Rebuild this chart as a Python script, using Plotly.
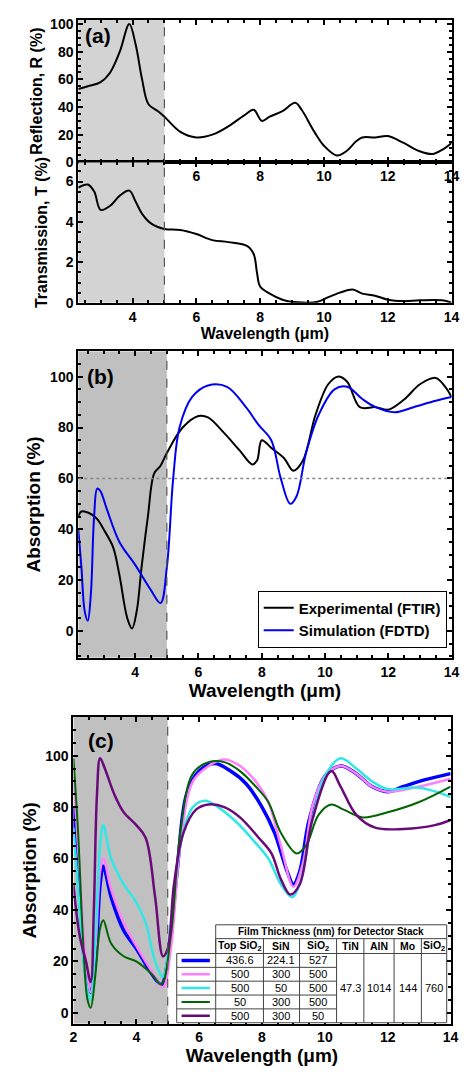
import plotly.graph_objects as go

# ---------- data ----------
r_x = [2.3,2.6,3.0,3.3,3.6,3.9,4.1,4.3,4.5,4.8,5.0,5.5,6.0,6.5,7.0,7.5,7.8,8.05,8.3,8.7,9.1,9.3,9.7,10.0,10.4,10.7,11.0,11.2,11.6,12.0,12.5,13.0,13.4,13.7,14.0]
r_y = [53,55,58,65,80,100,85,60,42,37,33,22,18,20,26,34,38,30,33,37,43,38,22,12,5,8,15,18,18,19,14,8,6,9,14]
t_x = [2.3,2.6,2.8,3.0,3.3,3.6,3.9,4.1,4.3,4.6,5.0,5.5,6.0,6.5,7.0,7.6,7.8,7.9,8.0,8.3,8.7,9.2,9.8,10.1,10.5,10.9,11.2,11.6,12.0,12.5,13.0,13.7,14.0]
t_y = [5.7,5.85,5.5,4.6,4.8,5.3,5.55,5.0,4.4,3.9,3.65,3.6,3.4,3.1,3.0,2.8,2.4,1.5,0.8,0.45,0.15,0.02,0.05,0.25,0.5,0.65,0.45,0.35,0.15,0.08,0.12,0.12,0.0]

exp_x = [2.2,2.3,2.6,2.8,3.0,3.3,3.5,3.75,3.9,4.05,4.2,4.4,4.6,4.8,5.0,5.5,6.0,6.3,6.8,7.3,7.7,7.85,8.0,8.3,8.7,9.0,9.3,9.7,10.1,10.4,10.7,11.1,11.6,12.0,12.5,13.0,13.5,13.8,14.0]
exp_y = [45,47,46,44,40,33,22,5,1,8,25,45,62,65,70,80,84.5,84,78,71,65.5,67,75,72,68,63,67,85,97,100,98,88,88,87,91,97,99.5,96,92]
sim_x = [2.2,2.3,2.4,2.5,2.6,2.7,2.8,2.9,3.1,3.5,4.0,4.5,4.8,5.0,5.2,5.4,5.8,6.3,6.9,7.5,7.9,8.3,8.6,8.9,9.1,9.4,9.8,10.3,10.7,11.2,11.6,12.2,12.8,13.5,14.0]
sim_y = [40,25,8,4,15,45,56,55,48,35,26,16,11,25,60,80,92,96.5,96,88,81,75,60,50,53,70,85,95,96,91,88,86,88,90.5,92]

c_blue_x = [2.0,2.2,2.4,2.55,2.7,2.85,2.95,3.2,3.6,4.0,4.5,4.8,5.0,5.3,5.6,6.0,6.5,7.0,7.5,8.0,8.4,8.8,9.0,9.2,9.5,10.0,10.5,11.0,11.5,12.0,12.5,13.0,14.0]
c_blue_y = [80,45,15,8,20,50,57,45,32,25,15,11,20,55,85,94,97,94,89,80,70,55,50,55,75,92,96,93,88,86,88,90,93]
c_pink_x = [2.0,2.2,2.4,2.55,2.7,2.85,2.95,3.2,3.6,4.0,4.5,4.85,5.1,5.4,5.8,6.3,6.8,7.3,7.8,8.2,8.6,9.0,9.3,9.6,10.0,10.5,11.0,11.5,12.0,13.0,14.0]
c_pink_y = [92,55,20,8,25,55,60,48,35,26,16,10,25,65,90,96,98.5,96,90,82,65,49,58,80,92,96,93,88,86,88,91]
c_cyan_x = [2.0,2.2,2.4,2.55,2.7,2.85,2.95,3.2,3.6,4.0,4.3,4.6,4.85,5.1,5.4,5.8,6.2,6.6,7.2,7.8,8.2,8.6,8.95,9.2,9.6,10.0,10.5,11.0,11.5,12.0,13.0,14.0]
c_cyan_y = [72,40,12,5,30,65,73,60,50,43,35,20,14,35,65,80,82.5,80,74,66,60,50,45,50,75,92,99,95,90,87,87.5,84]
c_green_x = [2.0,2.15,2.3,2.45,2.55,2.7,2.85,2.95,3.2,3.6,4.0,4.5,4.8,5.1,5.4,5.8,6.3,6.8,7.3,7.8,8.2,8.6,9.1,9.4,9.8,10.2,10.6,11.2,12.0,13.0,14.0]
c_green_y = [99,70,30,5,2,15,33,36,27,22,20,15,11,30,70,93,97.5,97.5,94,88,82,70,62,65,77,81,79,76,78,82,88]
c_purple_x = [2.0,2.2,2.4,2.55,2.65,2.75,2.85,3.0,3.3,3.6,4.0,4.3,4.6,4.85,5.0,5.2,5.5,5.9,6.3,6.8,7.3,7.9,8.3,8.6,8.9,9.2,9.6,10.2,10.5,11.0,11.6,12.5,13.5,14.0]
c_purple_y = [50,30,20,12,40,85,99,95,85,78,73,68,45,22,25,50,70,79,81,80,76,68,62,52,46,50,75,94,88,77,72,71.5,73,75]

table_header = ["Top SiO<sub>2</sub>", "SiN", "SiO<sub>2</sub>", "TiN", "AlN", "Mo", "SiO<sub>2</sub>"]
table_rows = [["436.6", "224.1", "527"], ["500", "300", "500"], ["500", "50", "500"],
              ["50", "300", "500"], ["500", "300", "50"]]
table_common = ["47.3", "1014", "144", "760"]
c_colors = ["#0000ff", "#ff80ff", "#33e6e6", "#006400", "#6a0a7a"]
c_widths = [3.5, 2.5, 2.5, 2, 2.5]

H, W = 1081, 474
def fy(px): return 1 - px / H
def fx(px): return px / W

fig = go.Figure()
FONT = "Liberation Sans"

for xa, ya, x0, y0, y1, col in [("x", "y", 2.3, 0, 103, "#d3d3d3"), ("x2", "y2", 2.3, 0, 6.95, "#d3d3d3"),
                                ("x3", "y3", 2.2, -10.5, 110, "#c0c0c0"), ("x4", "y4", 2.0, -4.2, 115, "#c0c0c0")]:
    fig.add_shape(type="rect", xref=xa, yref=ya, x0=x0, x1=5, y0=y0, y1=y1, fillcolor=col, line_width=0, layer="below")
    fig.add_shape(type="line", xref=xa, yref=ya, x0=5, x1=5, y0=y0, y1=y1, line=dict(color="#555", width=1.2, dash="dash"))
fig.add_shape(type="line", xref="x3", yref="y3", x0=2.2, x1=14, y0=60, y1=60, line=dict(color="#888", width=1.5, dash="dot"))

fig.add_trace(go.Scatter(x=r_x, y=r_y, xaxis="x", yaxis="y", mode="lines", line=dict(color="black", width=2, shape="spline"), showlegend=False))
fig.add_trace(go.Scatter(x=t_x, y=t_y, xaxis="x2", yaxis="y2", mode="lines", line=dict(color="black", width=2, shape="spline"), showlegend=False))
fig.add_trace(go.Scatter(x=exp_x, y=exp_y, xaxis="x3", yaxis="y3", mode="lines", name="<b>Experimental (FTIR)</b>", line=dict(color="black", width=2, shape="spline")))
fig.add_trace(go.Scatter(x=sim_x, y=sim_y, xaxis="x3", yaxis="y3", mode="lines", name="<b>Simulation (FDTD)</b>", line=dict(color="#0000ee", width=2, shape="spline")))
for xs, ys, col, w in zip([c_blue_x, c_pink_x, c_cyan_x, c_green_x, c_purple_x],
                          [c_blue_y, c_pink_y, c_cyan_y, c_green_y, c_purple_y], c_colors, c_widths):
    fig.add_trace(go.Scatter(x=xs, y=ys, xaxis="x4", yaxis="y4", mode="lines", line=dict(color=col, width=w, shape="spline"), showlegend=False))

tickf = dict(family=FONT, size=14, color="black")
titf = dict(family=FONT, size=16, color="black")
def ax(**kw):
    d = dict(showline=True, linewidth=2, linecolor="black", mirror="ticks", ticks="inside", ticklen=5,
             tickwidth=1.5, tickcolor="black", tickfont=tickf, showgrid=False, zeroline=False,
             minor=dict(ticks="inside", ticklen=3, tickcolor="black"))
    d.update(kw)
    return d

xa_ab = [fx(68), fx(451)]
fig.update_layout(
    width=W, height=H, margin=dict(l=0, r=0, t=0, b=0), plot_bgcolor="white", paper_bgcolor="white",
    xaxis=ax(domain=xa_ab, range=[2.3, 14], anchor="y", dtick=2, tickprefix="<b>", ticksuffix="</b>"),
    yaxis=ax(domain=[fy(152), fy(8)], range=[0, 103], anchor="x", dtick=20, tickprefix="<b>", ticksuffix="</b>",
             title=dict(text="<b>Reflection, R (%)</b>", font=titf, standoff=4)),
    xaxis2=ax(domain=xa_ab, range=[2.3, 14], anchor="y2", dtick=2, tickprefix="<b>", ticksuffix="</b>",
              title=dict(text="<b>Wavelength (μm)</b>", font=titf, standoff=0)),
    yaxis2=ax(domain=[fy(294), fy(152)], range=[0, 6.95], anchor="x2", dtick=2, tickprefix="<b>", ticksuffix="</b>",
              title=dict(text="<b>Transmission, T (%)</b>", font=titf, standoff=14)),
    xaxis3=ax(domain=xa_ab, range=[2.2, 14], anchor="y3", dtick=2, tickprefix="<b>", ticksuffix="</b>",
              title=dict(text="<b>Wavelength (μm)</b>", font=dict(family=FONT, size=19, color="black"), standoff=2)),
    yaxis3=ax(domain=[fy(653), fy(343)], range=[-10.5, 110], anchor="x3", dtick=20, tickprefix="<b>", ticksuffix="</b>",
              title=dict(text="<b>Absorption (%)</b>", font=dict(family=FONT, size=19, color="black"), standoff=4)),
    xaxis4=ax(domain=[fx(63), fx(450)], range=[2, 14], anchor="y4", dtick=2, tickprefix="<b>", ticksuffix="</b>",
              title=dict(text="<b>Wavelength (μm)</b>", font=dict(family=FONT, size=19, color="black"), standoff=2)),
    yaxis4=ax(domain=[fy(1023), fy(713)], range=[-4.2, 115], anchor="x4", dtick=20, tickprefix="<b>", ticksuffix="</b>",
              title=dict(text="<b>Absorption (%)</b>", font=dict(family=FONT, size=19, color="black"), standoff=4)),
    legend=dict(x=fx(446), y=fy(585), xanchor="right", yanchor="top", bordercolor="black", borderwidth=1,
                bgcolor="white", font=dict(family=FONT, size=15, color="black"), tracegroupgap=0),
)

for txt, x, y, xr, yr in [("(a)", 2.45, 92, "x", "y"), ("(b)", 2.4, 100, "x3", "y3"), ("(c)", 2.4, 106, "x4", "y4")]:
    fig.add_annotation(text="<b>" + txt + "</b>", x=x, y=y, xref=xr, yref=yr, xanchor="left", showarrow=False,
                       font=dict(family=FONT, size=21, color="black"))

# ---------- table in panel (c) ----------
def dx(px): return 2 + (px - 63) / 32.25
def dy(px): return (1012 - px) / 2.6
cols = [169, 209, 258, 295, 333, 361, 392, 420, 446]
rows = [923, 937, 952, 966, 980, 994, 1008, 1022]
L = dict(color="#444", width=1)
def seg(x0, y0, x1, y1):
    fig.add_shape(type="line", xref="x4", yref="y4", x0=dx(x0), x1=dx(x1), y0=dy(y0), y1=dy(y1), line=L)
fig.add_shape(type="rect", xref="x4", yref="y4", x0=dx(169), x1=dx(446), y0=dy(1022), y1=dy(952),
              fillcolor="white", line=L)
fig.add_shape(type="rect", xref="x4", yref="y4", x0=dx(209), x1=dx(446), y0=dy(952), y1=dy(923),
              fillcolor="white", line=L)
seg(209, 937, 446, 937)
for r in rows[3:-1]:
    seg(169, r, 333, r)
for c in cols[1:8]:
    seg(c, 937, c, 1022)
tf = dict(family=FONT, size=10, color="black")
fig.add_annotation(text="<b>Film Thickness (nm) for Detector Stack</b>", x=dx(327), y=dy(930), xref="x4", yref="y4",
                   showarrow=False, font=tf)
for i, h in enumerate(table_header):
    fig.add_annotation(text="<b>" + h + "</b>", x=dx((cols[i + 1] + cols[i + 2]) / 2), y=dy(944.5), xref="x4", yref="y4",
                       showarrow=False, font=dict(family=FONT, size=10.5, color="black"))
for ri, row in enumerate(table_rows):
    yc = dy((rows[ri + 2] + rows[ri + 3]) / 2)
    fig.add_shape(type="line", xref="x4", yref="y4", x0=dx(174), x1=dx(203), y0=yc, y1=yc,
                  line=dict(color=c_colors[ri], width=c_widths[ri]))
    for ci, v in enumerate(row):
        fig.add_annotation(text=v, x=dx((cols[ci + 1] + cols[ci + 2]) / 2), y=yc, xref="x4", yref="y4",
                           showarrow=False, font=dict(family=FONT, size=11, color="black"))
for ci, v in enumerate(table_common):
    fig.add_annotation(text=v, x=dx((cols[ci + 4] + cols[ci + 5]) / 2), y=dy(987), xref="x4", yref="y4",
                       showarrow=False, font=dict(family=FONT, size=11, color="black"))

fig.write_html("out.html")
